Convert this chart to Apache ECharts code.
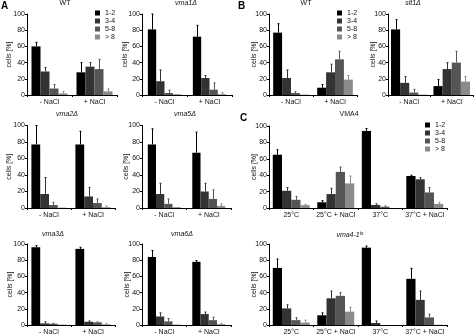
<!DOCTYPE html>
<html>
<head>
<meta charset="utf-8">
<script src="https://cdn.jsdelivr.net/npm/echarts@6/dist/echarts.min.js"></script>
<style>
html, body { margin: 0; padding: 0; background: #fff; }
#chart { width: 474px; height: 336px; }
</style>
</head>
<body>
<div id="chart"></div>
<script>
// Bud-size classes (number of cells per cluster) and x-axis groups
const sizeClasses = ['1-2', '3-4', '5-8', '> 8'];
const saltGroups = ['- NaCl', '+ NaCl'];
const tempGroups = ['25°C', '25°C + NaCl', '37°C', '37°C + NaCl'];
const yTicks = [0, 20, 40, 60, 80, 100];

// Means and standard deviations, one row per group: [1-2, 3-4, 5-8, > 8]
const wtA_mean = [[60, 29, 8, 2], [28, 35, 32, 4.5]];
const wtA_sd   = [[5, 5, 5, 2.5], [12, 5, 12, 3]];

const vma1_mean = [[81, 17, 2.5, 1], [72, 21, 6.6, 1]];
const vma1_sd   = [[19, 14, 3.5, 0], [14, 3, 8.4, 2]];

const wtB_mean = [[77, 21, 2.5, 0.5], [9, 28, 44, 19]];
const wtB_sd   = [[11, 10, 1.5, 0], [4, 10, 10, 5]];

const slt1_mean = [[81, 15, 3, 0.5], [11, 32, 40, 16.5]];
const slt1_sd   = [[12, 8, 4, 0], [8, 8, 14, 6.5]];

const vma2_mean = [[77, 17, 3.6, 0.4], [77, 14, 6, 1]];
const vma2_sd   = [[23, 20, 3.4, 0], [16, 11, 5, 1.5]];

const vma5_mean = [[77, 17, 5, 1], [67, 20, 11, 2.5]];
const vma5_sd   = [[19, 13, 6, 0], [25, 10, 11, 2.5]];

const vma4_mean = [[65, 21, 10, 3.5], [7, 17, 44, 30], [94, 3.7, 1.6, 0], [39, 35, 19, 5]];
const vma4_sd   = [[6, 4, 4, 1], [2, 7, 6, 9], [3, 1.3, 0.9, 0], [1, 2, 6, 2]];

const vma3_mean = [[96, 2, 1.6, 0.5], [94, 4, 3.3, 0.8]];
const vma3_sd   = [[2, 2, 0.5, 0], [2, 1, 0.5, 0.8]];

const vma6_mean = [[84, 10.5, 4.5, 0.5], [78, 13.5, 6, 1]];
const vma6_sd   = [[8, 4.5, 3.5, 0], [1.5, 2.5, 3.5, 1]];

const vma41_mean = [[70.5, 20.5, 6, 3], [12, 33, 36, 16.5], [95.5, 2.5, 0, 0], [57, 31, 9.4, 0.3]];
const vma41_sd   = [[11, 4.5, 3, 3], [3, 9, 4, 5.5], [2, 2.5, 0, 0], [13, 11, 4, 0]];

const classColors = ['#000000', '#333333', '#555555', '#8a8a8a'];
const FONT = 'Liberation Sans, Arial, sans-serif';

// Panel layout: grid box [left, top, width, height]
const panels = [
  { title: 'WT', italic: false, cats: saltGroups, mean: wtA_mean, sd: wtA_sd, box: [27, 14, 90, 81], gap: 0.2, nameGap: 14, tx: 65, ty: 0 },
  { title: 'vma1Δ', italic: true, cats: saltGroups, mean: vma1_mean, sd: vma1_sd, box: [142, 14, 90, 81], gap: 0.26, nameGap: 13, tx: 186, ty: 0 },
  { title: 'WT', italic: false, cats: saltGroups, mean: wtB_mean, sd: wtB_sd, box: [269, 14, 88, 81], gap: 0.19, nameGap: 11, tx: 306, ty: 0 },
  { title: 'slt1Δ', italic: true, cats: saltGroups, mean: slt1_mean, sd: slt1_sd, box: [388, 14, 85, 81], gap: 0.14, nameGap: 11, tx: 413, ty: 0 },
  { title: 'vma2Δ', italic: true, cats: saltGroups, mean: vma2_mean, sd: vma2_sd, box: [27, 125.5, 88, 82.5], gap: 0.2, nameGap: 14, tx: 67, ty: 111 },
  { title: 'vma5Δ', italic: true, cats: saltGroups, mean: vma5_mean, sd: vma5_sd, box: [142, 125.5, 89, 82.5], gap: 0.26, nameGap: 12, tx: 185, ty: 111 },
  { title: 'VMA4', italic: false, cats: tempGroups, mean: vma4_mean, sd: vma4_sd, box: [269, 126, 178, 82], gap: 0.17, nameGap: 11, tx: 349, ty: 111 },
  { title: 'vma3Δ', italic: true, cats: saltGroups, mean: vma3_mean, sd: vma3_sd, box: [27, 244, 88, 81], gap: 0.2, nameGap: 13, tx: 53, ty: 231 },
  { title: 'vma6Δ', italic: true, cats: saltGroups, mean: vma6_mean, sd: vma6_sd, box: [142, 244, 89, 81], gap: 0.26, nameGap: 11, tx: 182, ty: 231 },
  { title: 'vma4-1ts', italic: true, sup: true, cats: tempGroups, mean: vma41_mean, sd: vma41_sd, box: [269, 244, 178, 81], gap: 0.17, nameGap: 11, tx: 350, ty: 231 }
];

const grid = [], xAxis = [], yAxis = [], series = [], title = [];

panels.forEach((p, i) => {
  const [l, t, w, h] = p.box;
  grid.push({ left: l, top: t, width: w, height: h, containLabel: false });
  xAxis.push({
    type: 'category', gridIndex: i, data: p.cats,
    axisLine: { show: true, lineStyle: { color: '#000', width: 1 } },
    axisTick: { show: true, length: 2, lineStyle: { color: '#000' } },
    axisLabel: { fontSize: 7, fontFamily: FONT, color: '#111', margin: 4, interval: 0 },
    splitLine: { show: false }
  });
  yAxis.push({
    type: 'value', gridIndex: i, min: 0, max: 100, interval: 20,
    name: 'cells [%]', nameLocation: 'middle', nameRotate: 90, nameGap: p.nameGap,
    nameMoveOverlap: false,
    nameTextStyle: { fontSize: 7, fontFamily: FONT, color: '#111' },
    axisLine: { show: true, lineStyle: { color: '#000', width: 1 } },
    axisTick: { show: true, length: 2, lineStyle: { color: '#000' } },
    axisLabel: { fontSize: 7, fontFamily: FONT, color: '#111', margin: 2,
      formatter: v => (yTicks.indexOf(v) >= 0 ? String(v) : '') },
    splitLine: { show: false }
  });

  const titleText = p.sup ? '{i|vma4-1}{s|ts}' : p.title;
  title.push({
    text: titleText, left: p.tx, top: p.ty, textAlign: 'center', padding: 0,
    textStyle: {
      fontSize: 7, fontWeight: 'normal', fontFamily: FONT, color: '#111',
      fontStyle: p.italic ? 'italic' : 'normal',
      rich: {
        i: { fontSize: 7, fontStyle: 'italic', fontFamily: FONT, color: '#111' },
        s: { fontSize: 5, fontStyle: 'italic', fontFamily: FONT, color: '#111', verticalAlign: 'top', padding: [0, 0, 4, 0] }
      }
    }
  });

  sizeClasses.forEach((name, k) => {
    series.push({
      name, type: 'bar', xAxisIndex: i, yAxisIndex: i,
      data: p.mean.map(g => g[k]),
      barGap: '0%', barCategoryGap: (p.gap * 100) + '%',
      itemStyle: { color: classColors[k] },
      animation: false
    });
  });

  sizeClasses.forEach((name, k) => {
    const gap = p.gap;
    series.push({
      type: 'custom', xAxisIndex: i, yAxisIndex: i, z: 5,
      data: p.mean.map((g, gi) => [gi, g[k], p.sd[gi][k]]),
      encode: { x: 0, y: 1 },
      silent: true, animation: false,
      renderItem: (params, api) => {
        const gi = api.value(0), m = api.value(1), s = api.value(2);
        if (!(s > 0)) return null;
        const band = api.size([1, 0])[0];
        const bw = band * (1 - gap) / 4;
        const cx = Math.round(api.coord([gi, 0])[0] + (k - 1.5) * bw) + 0.5;
        const y0 = api.coord([gi, m])[1];
        const y1 = api.coord([gi, m + s])[1];
        const st = { stroke: classColors[k], lineWidth: 1 };
        return {
          type: 'group',
          children: [
            { type: 'line', shape: { x1: cx, y1: y0, x2: cx, y2: y1 }, style: st },
            { type: 'line', shape: { x1: cx - 1, y1: y1, x2: cx + 1, y2: y1 }, style: st }
          ]
        };
      }
    });
  });
});

// Legends for panels A, B and C
function legendAt(left, top) {
  return {
    data: sizeClasses, orient: 'vertical', left, top, padding: 0,
    icon: 'rect', itemWidth: 5, itemHeight: 5, itemGap: 0,
    textStyle: { fontSize: 7, fontFamily: FONT, color: '#111', lineHeight: 8 },
    selectedMode: false
  };
}

const chart = echarts.init(document.getElementById('chart'), null, { renderer: 'canvas' });
chart.setOption({
  backgroundColor: '#fff',
  animation: false,
  title,
  legend: [legendAt(95, 9), legendAt(337, 9), legendAt(425, 121)],
  grid, xAxis, yAxis, series,
  graphic: [
    { type: 'text', left: 1, top: 1, style: { text: 'A', fontSize: 10, fontWeight: 'bold', fontFamily: FONT, fill: '#000' } },
    { type: 'text', left: 238, top: 1, style: { text: 'B', fontSize: 10, fontWeight: 'bold', fontFamily: FONT, fill: '#000' } },
    { type: 'text', left: 240, top: 113, style: { text: 'C', fontSize: 10, fontWeight: 'bold', fontFamily: FONT, fill: '#000' } }
  ]
});
</script>
</body>
</html>
